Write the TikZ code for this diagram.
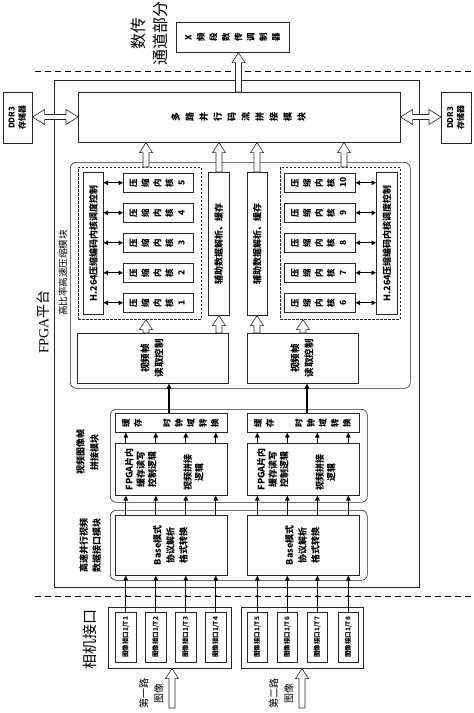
\documentclass[tikz,border=0pt]{standalone}
\usepackage{fontspec}
\usepackage{graphicx}
\setmainfont{Liberation Serif}
\newfontfamily\cjk{Noto Sans CJK SC}
\usetikzlibrary{arrows.meta,calc}
\newcommand\rt[1]{\rotatebox{90}{#1}}
\newcommand\tb[1]{\begin{tabular}{@{}c@{}}#1\end{tabular}}
% hollow up arrow: x, from, to
\newcommand\hup[3]{\draw[harrow] let \p1=(#1,0 |- #2), \p2=(#1,0 |- #3) in
  (\x1-3pt,\y1) -- (\x1-3pt,\y2-10pt) -- (\x1-6.5pt,\y2-10pt) -- (\x1,\y2)
  -- (\x1+6.5pt,\y2-10pt) -- (\x1+3pt,\y2-10pt) -- (\x1+3pt,\y1) -- cycle;}
% hollow double horizontal arrow: y, left, right
\newcommand\hlr[3]{\draw[harrow] let \p1=(#2 |- 0,#1), \p2=(#3 |- 0,#1) in
  (\x1,\y1) -- (\x1+12pt,\y1+7.5pt) -- (\x1+12pt,\y1+2.5pt) -- (\x2-12pt,\y1+2.5pt)
  -- (\x2-12pt,\y1+7.5pt) -- (\x2,\y1) -- (\x2-12pt,\y1-7.5pt) -- (\x2-12pt,\y1-2.5pt)
  -- (\x1+12pt,\y1-2.5pt) -- (\x1+12pt,\y1-7.5pt) -- cycle;}
\begin{document}
\begin{tikzpicture}[x=1pt,y=-1pt,
  box/.style={draw=black!85, line width=0.6pt, inner sep=0pt, anchor=north west,
    font=\cjk\bfseries\fontsize{9}{11.5}\selectfont},
  rbox/.style={box, rounded corners=6pt},
  dbox/.style={box, dash pattern=on 2.5pt off 1.5pt},
  harrow/.style={draw=black!85, fill=white, line width=0.6pt},
  bar/.style={line width=1.3pt, draw=black, -{Triangle[length=5pt,width=4.5pt]}},
  dbar/.style={line width=1.3pt, draw=black, {Triangle[length=4.5pt,width=4.5pt]}-{Triangle[length=4.5pt,width=4.5pt]}},
  lab/.style={inner sep=0pt, font=\cjk\bfseries\fontsize{9}{11.5}\selectfont},
  dline/.style={line width=0.8pt, dash pattern=on 6pt off 4pt}]
\useasboundingbox (0,0) rectangle (474,713);
% dashed separators
\coordinate (t1) at (35,71); \coordinate (t2) at (474,71);
\coordinate (b1) at (35,596); \coordinate (b2) at (474,596);
\draw[dline] (t1) -- (t2);
\draw[dline] (b1) -- (b2);
% big containers
\node[box, minimum width=365pt, minimum height=507pt] (fpga) at (54,80) {};
\node[rbox, minimum width=340pt, minimum height=226pt] (comp) at (70,162) {};
\node[rbox, minimum width=257pt, minimum height=93pt] (splice) at (110,409) {};
\node[rbox, minimum width=257pt, minimum height=70pt] (iface) at (110,510) {};
% top
\node[box, minimum width=113pt, minimum height=30pt, font=\cjk\bfseries\fontsize{8.5}{12.5}\selectfont] (mod) at (176,22) {\rt{\tb{X\\频\\段\\数\\传\\调\\制\\器}}};
\node[box, minimum width=322pt, minimum height=50pt, font=\cjk\bfseries\fontsize{9}{14}\selectfont] (mux) at (78,92) {\rt{\tb{多\\路\\并\\行\\码\\流\\拼\\接\\模\\块}}};
\node[box, minimum width=29pt, minimum height=51pt, font=\cjk\bfseries\fontsize{8}{10.5}\selectfont] (ddrL) at (3,92) {\rt{\tb{DDR3\\存储器}}};
\node[box, minimum width=30pt, minimum height=51pt, font=\cjk\bfseries\fontsize{8}{10.5}\selectfont] (ddrR) at (441,92) {\rt{\tb{DDR3\\存储器}}};
% compression groups
\node[dbox, minimum width=123pt, minimum height=152pt] (grpL) at (78,167) {};
\node[dbox, minimum width=120pt, minimum height=152pt] (grpR) at (280,167) {};
\node[box, minimum width=20pt, minimum height=142pt] (hL) at (83,172) {\rt{H.264压缩编码内核调度控制}};
\node[box, minimum width=21pt, minimum height=142pt] (hR) at (376,172) {\rt{H.264压缩编码内核调度控制}};
\node[box, minimum width=21pt, minimum height=143pt] (auxL) at (208,172) {\rt{辅助数据解析、缓存}};
\node[box, minimum width=20pt, minimum height=143pt] (auxR) at (247,172) {\rt{辅助数据解析、缓存}};
\foreach \i/\y in {1/293,2/263,3/233,4/203,5/173}{
  \node[box, minimum width=70pt, minimum height=19pt, font=\cjk\bfseries\fontsize{8.5}{12}\selectfont] (cL\i) at (123,\y) {\rt{\tb{压\\缩\\内\\核\\\i}}};
  \draw[dbar] (hL.east |- cL\i.west) -- (cL\i.west);
}
\foreach \i/\y in {6/293,7/263,8/233,9/203,10/173}{
  \node[box, minimum width=71pt, minimum height=19pt, font=\cjk\bfseries\fontsize{8.5}{12}\selectfont] (cR\i) at (284,\y) {\rt{\tb{压\\缩\\内\\核\\\i}}};
  \draw[dbar] (cR\i.east) -- (hR.west |- cR\i.east);
}
% read control
\node[box, minimum width=151pt, minimum height=50pt, font=\cjk\bfseries\fontsize{9.5}{14}\selectfont] (rcL) at (77,333) {\rt{\tb{视频帧\\读取控制}}};
\node[box, minimum width=111pt, minimum height=50pt, font=\cjk\bfseries\fontsize{9.5}{14}\selectfont] (rcR) at (247,333) {\rt{\tb{视频帧\\读取控制}}};
% splice module
\node[box, minimum width=112pt, minimum height=19pt, font=\cjk\bfseries\fontsize{8.5}{12}\selectfont] (stripL) at (115,413) {\rt{\tb{缓\\存\\[17pt]时\\钟\\域\\转\\换}}};
\node[box, minimum width=112pt, minimum height=19pt, font=\cjk\bfseries\fontsize{8.5}{12}\selectfont] (stripR) at (247,413) {\rt{\tb{缓\\存\\[17pt]时\\钟\\域\\转\\换}}};
\node[box, minimum width=112pt, minimum height=52pt] (logicL) at (115,443) {};
\node[lab] (tlogicL) at ($(logicL.center)+(-6,0)$) {\rt{\tb{FPGA片内\\缓存读写\\控制逻辑}}\hspace{24pt}\rt{\tb{视频拼接\\逻辑}}};
\node[box, minimum width=112pt, minimum height=52pt] (logicR) at (247,443) {};
\node[lab] (tlogicR) at ($(logicR.center)+(-6,0)$) {\rt{\tb{FPGA片内\\缓存读写\\控制逻辑}}\hspace{24pt}\rt{\tb{视频拼接\\逻辑}}};
% interface module
\node[box, minimum width=112pt, minimum height=60pt, font=\cjk\bfseries\fontsize{9}{13}\selectfont] (baseL) at (115,515) {\rt{\tb{Base模式\\协议解析\\格式转换}}};
\node[box, minimum width=112pt, minimum height=60pt, font=\cjk\bfseries\fontsize{9}{13}\selectfont] (baseR) at (247,515) {\rt{\tb{Base模式\\协议解析\\格式转换}}};
% camera interface
\node[box, minimum width=123pt, minimum height=61pt] (camL) at (108,607) {};
\node[box, minimum width=122pt, minimum height=61pt] (camR) at (241,607) {};
\foreach \i/\x in {1/115,2/145,3/175,4/205}{
  \node[box, minimum width=21pt, minimum height=50pt, font=\cjk\bfseries\fontsize{6.5}{8}\selectfont] (p\i) at (\x,612) {\rt{图像接口1/T\i}};
}
\foreach \i/\x in {5/247,6/277,7/307,8/338}{
  \node[box, minimum width=20pt, minimum height=50pt, font=\cjk\bfseries\fontsize{6.5}{8}\selectfont] (p\i) at (\x,612) {\rt{图像接口1/T\i}};
}
\coordinate (dl) at (0,596);
\foreach \i/\b/\l/\s in {1/baseL/logicL/stripL,2/baseL/logicL/stripL,3/baseL/logicL/stripL,4/baseL/logicL/stripL,
                         5/baseR/logicR/stripR,6/baseR/logicR/stripR,7/baseR/logicR/stripR,8/baseR/logicR/stripR}{
  \draw[bar] (p\i.north) -- (p\i.north |- \b.south);
  \fill (p\i.north |- dl) circle (1.4pt);
  \draw[bar] (p\i.north |- \b.north) -- (p\i.north |- \l.south);
  \draw[bar] (p\i.north |- \l.north) -- (p\i.north |- \s.south);
}
\draw[bar] (169,0 |- stripL.north) -- (169,0 |- rcL.south);
\draw[bar] (307,0 |- stripR.north) -- (307,0 |- rcR.south);
% hollow arrows
\hup{146}{rcL.north}{grpL.south}
\hup{146}{grpL.north}{mux.south}
\hup{219}{rcL.north}{auxL.south}
\hup{219}{auxL.north}{mux.south}
\hup{257}{rcR.north}{auxR.south}
\hup{257}{auxR.north}{mux.south}
\hup{303}{rcR.north}{grpR.south}
\hup{344}{grpR.north}{mux.south}
\hup{238.5}{mux.north}{mod.south}
\coordinate (in1) at (172,708);
\coordinate (in2) at (302,708);
\hup{172}{in1}{camL.south}
\hup{302}{in2}{camR.south}
\hlr{117}{ddrL.east}{mux.west}
\hlr{117}{mux.east}{ddrR.west}
% labels
\node[lab, font=\cjk\fontsize{16}{22}\selectfont] (ltitle) at (151,33) {\rt{\tb{数传\\通道部分}}};
\node[lab, font=\fontsize{14}{16}\selectfont] (lfpga) at (43,322) {\rt{FPGA{\cjk 平台}}};
\node[lab, font=\cjk\fontsize{9.5}{11}\selectfont] (lcomp) at (63,273) {\rt{高比率高速压缩模块}};
\node[lab, font=\cjk\bfseries\fontsize{9}{14}\selectfont] (lsplice) at (88,452) {\rt{\tb{视频图像帧\\拼接模块}}};
\node[lab, font=\cjk\bfseries\fontsize{9}{13}\selectfont] (liface) at (91,545) {\rt{\tb{高速并行视频\\数据接口模块}}};
\node[lab, font=\cjk\fontsize{15}{18}\selectfont] (lcam) at (90,639) {\rt{相机接口}};
\node[lab, font=\cjk\fontsize{10}{15}\selectfont] (lin1) at (152,693) {\rt{\tb{第一路\\图像}}};
\node[lab, font=\cjk\fontsize{10}{15}\selectfont] (lin2) at (282,693) {\rt{\tb{第二路\\图像}}};
\end{tikzpicture}
\end{document}
